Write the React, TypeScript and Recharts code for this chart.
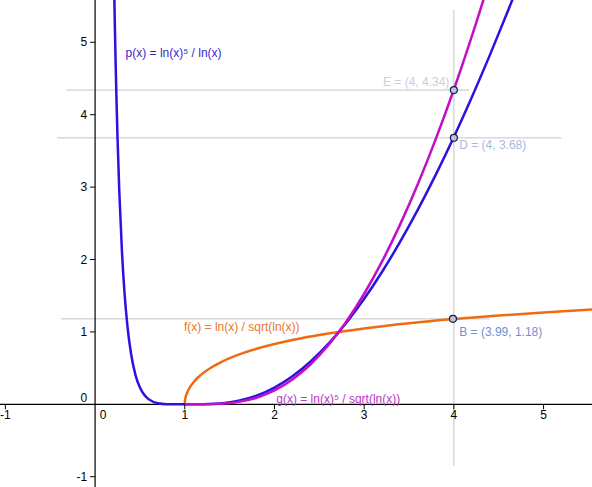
import { ComposedChart, Line, XAxis, YAxis, ReferenceLine, ReferenceDot } from "recharts";

// visible window of the graphics view
const xDomain = [-1.06, 5.54];
const yDomain = [-1.142, 5.584];

const xTicks = [-1, 0, 1, 2, 3, 4, 5];
const yTicks = [-1, 0, 1, 2, 3, 4, 5];

// p(x) = ln(x)^5 / ln(x)
const pX = [0.2, 0.215, 0.22, 0.23, 0.24, 0.25, 0.27, 0.3, 0.33, 0.36, 0.4, 0.45, 0.5, 0.55, 0.6, 0.7, 0.8, 0.9, 1, 1.2, 1.4, 1.6, 1.8, 2, 2.2, 2.4, 2.6, 2.8, 3, 3.2, 3.4, 3.6, 3.8, 4, 4.2, 4.4, 4.6, 4.7];
const pY = [6.71, 5.58, 5.26, 4.67, 4.15, 3.69, 2.94, 2.1, 1.51, 1.09, 0.705, 0.407, 0.231, 0.128, 0.068, 0.016, 0.0025, 0.0001, 0, 0.0011, 0.0128, 0.0488, 0.119, 0.231, 0.387, 0.588, 0.834, 1.124, 1.457, 1.831, 2.243, 2.692, 3.176, 3.693, 4.242, 4.819, 5.424, 5.737];

// g(x) = ln(x)^5 / sqrt(ln(x))
const gX = [1, 1.2, 1.4, 1.6, 1.8, 2, 2.2, 2.4, 2.6, 2.8, 3, 3.2, 3.4, 3.6, 3.8, 4, 4.2, 4.4];
const gY = [0, 0.0005, 0.0074, 0.0335, 0.0915, 0.192, 0.343, 0.55, 0.815, 1.14, 1.527, 1.974, 2.482, 3.047, 3.67, 4.348, 5.081, 5.865];

// f(x) = ln(x) / sqrt(ln(x))
const fX = [1, 1.002, 1.01, 1.03, 1.06, 1.1, 1.15, 1.2, 1.3, 1.4, 1.6, 1.8, 2, 2.3, 2.6, 3, 3.5, 4, 4.5, 5, 5.6];
const fY = [0, 0.045, 0.1, 0.172, 0.241, 0.309, 0.374, 0.427, 0.512, 0.58, 0.686, 0.767, 0.833, 0.913, 0.978, 1.048, 1.119, 1.177, 1.226, 1.269, 1.313];

// helper lines (gray)
const hLines = [
  { y: 4.34, x1: -0.32, x2: 4.17 },
  { y: 3.68, x1: -0.42, x2: 5.2 },
  { y: 1.18, x1: -0.38, x2: 4.4 },
];
const vLine = { x: 4, y1: -0.85, y2: 5.45 };

const points = [
  { name: "E", x: 4, y: 4.34 },
  { name: "D", x: 4, y: 3.68 },
  { name: "B", x: 3.99, y: 1.18 },
];

const labels = [
  { text: "p(x) = ln(x)⁵ / ln(x)", x: 0.34, y: 4.85, color: "#3a1fc8" },
  { text: "f(x) = ln(x) / sqrt(ln(x))", x: 0.99, y: 1.07, color: "#e8782a" },
  { text: "g(x) = ln(x)⁵ / sqrt(ln(x))", x: 2.02, y: 0.075, color: "#b43ac8" },
  { text: "E = (4, 4.34)", x: 3.21, y: 4.45, color: "#c8cee2" },
  { text: "D = (4, 3.68)", x: 4.06, y: 3.58, color: "#a9b9de" },
  { text: "B = (3.99, 1.18)", x: 4.06, y: 1.0, color: "#6f8fd2" },
];

const zip = (xs: number[], ys: number[]) => xs.map((x, i) => ({ x, y: ys[i] }));
const pData = zip(pX, pY);
const gData = zip(gX, gY);
const fData = zip(fX, fY);

const FONT = "'Liberation Sans', Arial, sans-serif";

export default function App() {
  return (
    <div style={{ width: 592, height: 487, background: "#fff" }}>
      <style>{`body{margin:0}`}</style>
      <ComposedChart width={592} height={487} margin={{ top: 0, right: 0, bottom: 0, left: 0 }}>
        <XAxis type="number" dataKey="x" domain={xDomain} allowDataOverflow hide />
        <YAxis type="number" dataKey="y" domain={yDomain} allowDataOverflow hide />

        {hLines.map((l, i) => (
          <ReferenceLine
            key={"h" + i}
            segment={[{ x: l.x1, y: l.y }, { x: l.x2, y: l.y }]}
            stroke="#c4c4c4"
            strokeWidth={1}
          />
        ))}
        <ReferenceLine
          segment={[{ x: vLine.x, y: vLine.y1 }, { x: vLine.x, y: vLine.y2 }]}
          stroke="#c4c4c4"
          strokeWidth={1}
        />

        <ReferenceLine y={0} stroke="#000" strokeWidth={1.2} />
        <ReferenceLine x={0} stroke="#000" strokeWidth={1.2} />

        {xTicks.map((v) => (
          <ReferenceDot
            key={"xt" + v}
            x={v}
            y={0}
            r={1}
            shape={(p: any) => (
              <g>
                {v !== 0 && <line x1={p.cx} y1={p.cy} x2={p.cx} y2={p.cy + 5} stroke="#000" />}
                <text
                  x={v === 0 ? p.cx + 8 : p.cx}
                  y={p.cy + 15}
                  textAnchor="middle"
                  fontSize={12}
                  fontFamily={FONT}
                  fill="#000"
                >
                  {v}
                </text>
              </g>
            )}
          />
        ))}
        {yTicks.map((v) => (
          <ReferenceDot
            key={"yt" + v}
            x={0}
            y={v}
            r={1}
            shape={(p: any) => (
              <g>
                {v !== 0 && <line x1={p.cx - 5} y1={p.cy} x2={p.cx} y2={p.cy} stroke="#000" />}
                <text
                  x={p.cx - 8}
                  y={v === 0 ? p.cy - 2 : p.cy + 4}
                  textAnchor="end"
                  fontSize={12}
                  fontFamily={FONT}
                  fill="#000"
                >
                  {v}
                </text>
              </g>
            )}
          />
        ))}

        <Line data={fData} dataKey="y" type="monotone" stroke="#f06a12" strokeWidth={2.5} dot={false} isAnimationActive={false} />
        <Line data={pData} dataKey="y" type="monotone" stroke="#2b12e2" strokeWidth={2.5} dot={false} isAnimationActive={false} />
        <Line data={gData} dataKey="y" type="monotone" stroke="#c20ec6" strokeWidth={2.5} dot={false} isAnimationActive={false} />

        {labels.map((l) => (
          <ReferenceDot
            key={l.text}
            x={l.x}
            y={l.y}
            r={1}
            shape={(p: any) => (
              <text x={p.cx} y={p.cy} dominantBaseline="central" fontSize={12} fontFamily={FONT} fill={l.color}>
                {l.text}
              </text>
            )}
          />
        ))}

        {points.map((pt) => (
          <ReferenceDot key={pt.name} x={pt.x} y={pt.y} r={3.5} fill="#b6c4e6" stroke="#1c1c3c" strokeWidth={1.2} />
        ))}
      </ComposedChart>
    </div>
  );
}
